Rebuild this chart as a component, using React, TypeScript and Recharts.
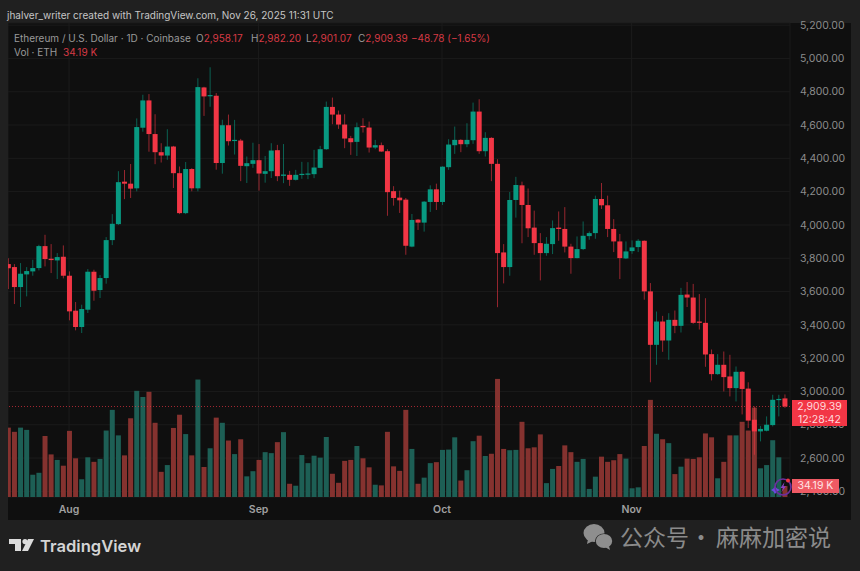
import { Bar, CartesianGrid, Cell, ComposedChart, ReferenceLine, XAxis, YAxis } from 'recharts';

const UP = '#089981';
const DOWN = '#f23645';
const FONT = 'Inter, Roboto, sans-serif';

// daily candles Jul 22 - Nov 26
const opens = [
  3765, 3747, 3627, 3703, 3721, 3741, 3873, 3797, 3787, 3809,
  3695, 3485, 3387, 3491, 3719, 3609, 3681, 3909, 4005, 4260,
  4248, 4220, 4584, 4748, 4546, 4437, 4417, 4471, 4311, 4071,
  4336, 4220, 4826, 4773, 4776, 4372, 4599, 4505, 4507, 4353,
  4367, 4389, 4307, 4323, 4449, 4295, 4301, 4271, 4301, 4303,
  4305, 4343, 4455, 4709, 4663, 4603, 4521, 4499, 4595, 4585,
  4465, 4479, 4443, 4203, 4164, 4152, 3870, 4032, 4014, 4138,
  4214, 4138, 4347, 4479, 4511, 4485, 4509, 4681, 4443, 4523,
  4367, 3835, 3747, 4150, 4238, 4120, 3984, 3891, 3831, 3885,
  3984, 3976, 3870, 3801, 3855, 3933, 3951, 4156, 4118, 3976,
  3901, 3799, 3843, 3867, 3905, 3601, 3280, 3420, 3306, 3430,
  3394, 3582, 3564, 3420, 3412, 3224, 3104, 3160, 3090, 3020,
  3118, 3017, 2830, 2760, 2764, 2798, 2950, 2958.17,
];
const closes = [
  3740, 3627, 3707, 3723, 3741, 3873, 3795, 3789, 3807, 3695,
  3481, 3387, 3495, 3719, 3605, 3681, 3909, 4007, 4257, 4248,
  4218, 4588, 4748, 4546, 4437, 4417, 4471, 4311, 4071, 4336,
  4220, 4828, 4772, 4780, 4372, 4599, 4503, 4511, 4355, 4371,
  4389, 4309, 4323, 4447, 4293, 4303, 4271, 4301, 4307, 4309,
  4345, 4455, 4709, 4663, 4603, 4519, 4497, 4587, 4587, 4465,
  4479, 4441, 4197, 4162, 4148, 3875, 4030, 4014, 4140, 4214,
  4138, 4350, 4483, 4511, 4485, 4511, 4681, 4443, 4523, 4367,
  3831, 3747, 4150, 4240, 4120, 3980, 3891, 3831, 3887, 3981,
  3976, 3870, 3801, 3855, 3935, 3951, 4156, 4118, 3976, 3901,
  3801, 3841, 3865, 3905, 3601, 3280, 3420, 3306, 3430, 3394,
  3580, 3564, 3412, 3412, 3222, 3104, 3160, 3086, 3020, 3118,
  3015, 2825, 2760, 2775, 2800, 2950, 2955, 2909.39,
];
const highs = [
  3800, 3765, 3771, 3747, 3791, 3881, 3941, 3885, 3831, 3877,
  3721, 3537, 3521, 3735, 3731, 3699, 3927, 4065, 4323, 4330,
  4366, 4640, 4782, 4786, 4665, 4491, 4575, 4475, 4351, 4378,
  4341, 4881, 4830, 4947, 4792, 4632, 4663, 4631, 4517, 4411,
  4494, 4486, 4414, 4491, 4481, 4486, 4325, 4331, 4379, 4377,
  4451, 4475, 4741, 4765, 4687, 4665, 4535, 4615, 4641, 4621,
  4511, 4495, 4455, 4233, 4206, 4162, 4066, 4036, 4144, 4238,
  4248, 4352, 4515, 4591, 4515, 4611, 4735, 4755, 4557, 4527,
  4395, 3885, 4198, 4289, 4260, 4219, 4086, 3951, 3927, 4027,
  4081, 4107, 3887, 3931, 4021, 3961, 4176, 4252, 4176, 4035,
  3946, 3901, 3907, 3915, 3907, 3651, 3480, 3454, 3470, 3486,
  3622, 3657, 3646, 3585, 3560, 3252, 3224, 3240, 3220, 3150,
  3122, 3055, 2910, 2793, 2850, 2980, 2980, 2982.2,
];
const lows = [
  3615, 3525, 3507, 3571, 3695, 3727, 3751, 3711, 3675, 3679,
  3427, 3367, 3351, 3471, 3545, 3561, 3647, 3879, 4000, 4155,
  4162, 4202, 4560, 4440, 4365, 4375, 4391, 4222, 4065, 4065,
  4202, 4202, 4655, 4710, 4332, 4308, 4477, 4423, 4263, 4252,
  4343, 4206, 4254, 4282, 4263, 4251, 4235, 4267, 4277, 4275,
  4281, 4341, 4451, 4605, 4577, 4461, 4421, 4414, 4555, 4435,
  4455, 4439, 4055, 4116, 4072, 3821, 3866, 3970, 3960, 4078,
  4090, 4120, 4331, 4427, 4437, 4467, 4487, 4427, 4411, 4263,
  3506, 3649, 3695, 4044, 3890, 3927, 3821, 3667, 3815, 3825,
  3905, 3835, 3707, 3799, 3849, 3911, 3917, 4096, 3927, 3837,
  3675, 3795, 3827, 3837, 3551, 3055, 3160, 3238, 3190, 3350,
  3354, 3507, 3406, 3372, 3148, 3066, 3100, 3000, 2970, 2940,
  2862, 2780, 2620, 2700, 2760, 2790, 2850, 2901.07,
];
// volume in thousands of ETH
const volumes = [
  215, 202, 215, 208, 69, 75, 189, 132, 115, 97,
  205, 120, 55, 123, 109, 118, 206, 270, 191, 129,
  244, 329, 310, 326, 230, 78, 99, 214, 255, 195,
  129, 364, 93, 151, 246, 230, 175, 133, 179, 64,
  80, 115, 139, 136, 170, 201, 41, 35, 130, 105,
  128, 122, 186, 72, 44, 112, 115, 158, 120, 92,
  38, 36, 202, 95, 81, 270, 149, 41, 60, 105,
  108, 146, 147, 185, 51, 83, 173, 190, 127, 134,
  366, 149, 145, 146, 233, 151, 154, 194, 43, 87,
  96, 160, 139, 109, 118, 25, 63, 125, 109, 114,
  133, 119, 27, 30, 158, 301, 196, 179, 167, 71,
  94, 119, 118, 123, 197, 185, 58, 109, 191, 191,
  233, 206, 277, 89, 99, 176, 123, 34.19,
];

const priceTicks = [2400, 2600, 2800, 3000, 3200, 3400, 3600, 3800, 4000, 4200, 4400, 4600, 4800, 5000, 5200];
const monthTicks = [10, 41, 71, 102];
const monthLabels = ['Aug', 'Sep', 'Oct', 'Nov'];
const lastPrice = 2909.39;

const rows = opens.map((open, i) => ({
  day: i,
  open,
  close: closes[i],
  range: [lows[i], highs[i]],
  volume: volumes[i],
}));

function Candle(props: any) {
  const { x, y, width, height, payload } = props;
  const [low, high] = payload.range;
  const perUnit = height / (high - low);
  const top = y + (high - Math.max(payload.open, payload.close)) * perUnit;
  const bodyH = Math.max(Math.abs(payload.open - payload.close) * perUnit, 1.2);
  const color = payload.close >= payload.open ? UP : DOWN;
  const cx = x + width / 2;
  return (
    <g>
      <line x1={cx} x2={cx} y1={y} y2={y + height} stroke={color} strokeWidth={1} strokeOpacity={0.6} />
      <rect x={x} y={top} width={width} height={bodyH} fill={color} />
    </g>
  );
}

function Label({ left, top, size = 10, color = '#9a9a9a', children, weight = 400, family = FONT }: any) {
  return (
    <div
      style={{
        position: 'absolute',
        left,
        top,
        fontSize: size,
        color,
        fontWeight: weight,
        fontFamily: family,
        whiteSpace: 'nowrap',
        lineHeight: 1,
      }}
    >
      {children}
    </div>
  );
}

export default function App() {
  return (
    <div
      style={{
        position: 'absolute',
        left: 0,
        top: 0,
        width: 860,
        height: 571,
        background: '#202020',
        overflow: 'hidden',
      }}
    >
      <div style={{ position: 'absolute', left: 8, top: 23, background: '#0f0f0f', width: 843, height: 497 }} />
      {/* chart starts above the panel so the 5,200.00 label is not cut */}
      <div style={{ position: 'absolute', left: 8, top: 17, width: 843, height: 503 }}>
        <ComposedChart width={843} height={503} data={rows} margin={{ top: 6, right: 0, bottom: 0, left: 0 }}>
          <CartesianGrid xAxisId="time" yAxisId="price" stroke="#1b1b1b" />
          <XAxis
            xAxisId="time"
            dataKey="day"
            type="number"
            domain={[0.02, 127.9]}
            allowDataOverflow
            ticks={monthTicks}
            tickFormatter={(d: number) => monthLabels[monthTicks.indexOf(d)]}
            axisLine={false}
            tickLine={false}
            height={23}
            tick={{ fill: '#a0a0a0', fontSize: 10.5, fontWeight: 600, fontFamily: FONT }}
            tickMargin={3}
          />
          <XAxis xAxisId="volTime" dataKey="day" type="number" domain={[0.02, 127.9]} allowDataOverflow hide />
          <YAxis
            yAxisId="price"
            orientation="right"
            domain={[2366, 5213]}
            ticks={priceTicks}
            interval={0}
            tickFormatter={(v: number) => v.toLocaleString('en-US', { minimumFractionDigits: 2 })}
            axisLine={false}
            tickLine={false}
            width={61}
            tickMargin={4}
            tick={{ fill: '#8c8c8c', fontSize: 10.5, fontFamily: FONT }}
          />
          <YAxis yAxisId="vol" domain={[0, 1469]} hide />
          <ReferenceLine
            xAxisId="time"
            yAxisId="price"
            y={lastPrice}
            stroke={DOWN}
            strokeOpacity={0.65}
            strokeDasharray="1 2"
          />
          <Bar xAxisId="volTime" yAxisId="vol" dataKey="volume" barSize={5} isAnimationActive={false}>
            {rows.map((r, i) => (
              <Cell key={i} fill={r.close >= r.open ? '#1d5f55' : '#85322f'} />
            ))}
          </Bar>
          <Bar
            xAxisId="time"
            yAxisId="price"
            dataKey="range"
            barSize={5}
            shape={Candle}
            isAnimationActive={false}
          />
        </ComposedChart>
      </div>

      <Label left={7} top={10} color="#c6c6c6">
        jhalver_writer created with TradingView.com, Nov 26, 2025 11:31 UTC
      </Label>
      <Label left={14} top={32.5}>
        Ethereum / U.S. Dollar · 1D · Coinbase
      </Label>
      <Label left={196} top={32.5}>
        O<span style={{ color: '#d63a45' }}>2,958.17</span>
      </Label>
      <Label left={251} top={32.5}>
        H<span style={{ color: '#d63a45' }}>2,982.20</span>
      </Label>
      <Label left={306} top={32.5}>
        L<span style={{ color: '#d63a45' }}>2,901.07</span>
      </Label>
      <Label left={358} top={32.5}>
        C<span style={{ color: '#d63a45' }}>2,909.39</span>
      </Label>
      <Label left={411} top={32.5} color="#d63a45">
        −48.78 (−1.65%)
      </Label>
      <Label left={14} top={46.5}>
        Vol · ETH
      </Label>
      <Label left={63} top={46.5} color="#d63a45">
        34.19 K
      </Label>

      {/* last price and volume badges */}
      <div
        style={{
          position: 'absolute',
          left: 792,
          top: 400,
          width: 55,
          height: 26,
          background: DOWN,
          color: '#ffd9dc',
          fontFamily: FONT,
          fontSize: 10.5,
          lineHeight: '12.5px',
          textAlign: 'center',
          paddingTop: 1,
          boxSizing: 'border-box',
        }}
      >
        2,909.39
        <br />
        12:28:42
      </div>
      <svg style={{ position: 'absolute', left: 770, top: 476 }} width={26} height={22}>
        <path d="M5 10 L7 12.5 L10 14 L7 15.5 L5 18 L3.5 15.5 L1 14 L3.5 12.5 Z" fill="#6d4be0" />
        <circle cx={13} cy={11} r={8} fill="none" stroke="#6b2f9e" strokeWidth={1.6} />
        <path d="M14.5 6 L10.5 12 L13 12 L11.5 16 L16 10.2 L13.5 10.2 Z" fill="#8a3fc4" />
        <circle cx={18} cy={4.5} r={2} fill={DOWN} />
      </svg>
      <div
        style={{
          position: 'absolute',
          left: 792,
          top: 479,
          width: 47,
          height: 14,
          background: '#ef5a64',
          color: '#ffe3e5',
          fontFamily: FONT,
          fontSize: 10.5,
          lineHeight: '14px',
          textAlign: 'center',
        }}
      >
        34.19 K
      </div>

      {/* footer */}
      <svg style={{ position: 'absolute', left: 9, top: 539 }} width={26} height={14}>
        <path d="M0 0 H12 V12 H6 V5 H0 Z" fill="#dcdcdc" />
        <circle cx={16} cy={2.6} r={2.6} fill="#dcdcdc" />
        <path d="M19 0 H25 L19 12 H13 Z" fill="#dcdcdc" />
      </svg>
      <Label left={40} top={537.5} size={16.6} color="#d4d4d4" weight={600}>
        TradingView
      </Label>
      <svg style={{ position: 'absolute', left: 583, top: 523 }} width={32} height={30}>
        <ellipse cx={11} cy={10} rx={10.5} ry={9} fill="#8e8e8e" />
        <path d="M5 16 L4 21 L10 18 Z" fill="#8e8e8e" />
        <ellipse cx={21} cy={18} rx={9} ry={7.6} fill="#202020" />
        <ellipse cx={21} cy={18} rx={8.2} ry={7} fill="#8e8e8e" />
        <path d="M26 23 L27 27 L22 24 Z" fill="#8e8e8e" />
      </svg>
      <Label left={620} top={525} size={23} color="#8b8b8b" family="'Noto Sans CJK SC', sans-serif">
        公众号
      </Label>
      <Label left={689.5} top={525} size={23} color="#8b8b8b" family="'Noto Sans CJK SC', sans-serif">
        ·
      </Label>
      <Label left={716} top={525} size={23} color="#8b8b8b" family="'Noto Sans CJK SC', sans-serif">
        麻麻加密说
      </Label>
    </div>
  );
}
